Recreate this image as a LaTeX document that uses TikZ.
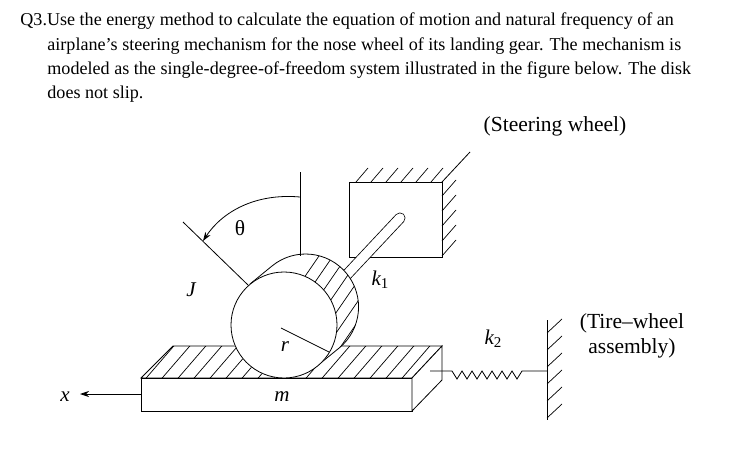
\documentclass[tikz,border=0pt]{standalone}
\usepackage{fontspec}
\setmainfont{Liberation Serif}
\usetikzlibrary{arrows.meta}
\begin{document}
\begin{tikzpicture}[x=1pt,y=-1pt,line width=0.8pt,
  txt/.style={font=\fontsize{18.1}{21}\selectfont,anchor=west,inner sep=0},
  lbl/.style={font=\fontsize{21.5}{24}\selectfont,inner sep=0},
  ilbl/.style={font=\fontsize{21}{24}\selectfont\itshape,inner sep=0},
  hat/.style={line width=0.7pt}]
\useasboundingbox (0,0) rectangle (748,460);
% question text
\node[txt] (l1) at (20,21) {Q3.Use the energy method to calculate the equation of motion and natural frequency of an};
\node[txt] (l2) at (47,46) {airplane’s steering mechanism for the nose wheel of its landing gear. The mechanism is};
\node[txt] (l3) at (47,70) {modeled as the single-degree-of-freedom system illustrated in the figure below. The disk};
\node[txt] (l4) at (47,94) {does not slip.};
\node[lbl] (sw) at (555,126) {(Steering wheel)};
\node[lbl] (tw1) at (632,323) {(Tire–wheel};
\node[lbl] (tw2) at (632,348) {assembly)};
% slab
\draw[fill=white] (141,378) -- (173,346) -- (442,346) -- (412,378) -- cycle;
\begin{scope}
\clip (141,378) -- (173,346) -- (442,346) -- (412,378) -- cycle;
\foreach \i in {0,...,20} \draw[hat] (125+\i*16,384) -- (163+\i*16,340);
\end{scope}
\draw[fill=white] (141,378) rectangle (412,411);
\draw[fill=white] (412,378) -- (442,346) -- (442,380) -- (412,411) -- cycle;
\node[ilbl] (m) at (282,397) {m};
% x arrow
\coordinate (xs) at (141,394);
\coordinate (xe) at (80,394);
\draw[-{Stealth[length=9pt,width=6pt]}] (xs) -- (xe);
\node[ilbl] (x) at (65,397) {x};
% box and shaft
\draw (349,182) rectangle (442,257);
\foreach \i in {0,...,5} \draw[hat] (356+\i*15,182) -- (368+\i*15,168);
\foreach \i in {0,...,4} \draw[hat] (442,196+\i*15) -- (456,180+\i*15);
\draw (442,182) -- (470,152);
\coordinate (sh1) at (340,282);
\coordinate (sh2) at (400,218);
\draw[line width=11pt,line cap=round] (sh1) -- (sh2);
\draw[line width=9.4pt,white,line cap=round] (sh1) -- (sh2);
% disk
\fill[white] (250,284) -- (272,266) arc[start angle=-129.3,end angle=50.7,radius=53] -- (317,366) arc[start angle=50.7,end angle=230.7,radius=53] -- cycle;
\begin{scope}
\clip (250,284) -- (272,266) arc[start angle=-129.3,end angle=50.7,radius=53] -- (317,366) arc[start angle=50.7,end angle=230.7,radius=53] -- cycle;
\foreach \i in {0,...,12} \draw[hat] (220+\i*14,400) -- (330+\i*14,240);
\end{scope}
\draw (250,284) -- (272,266) arc[start angle=-129.3,end angle=50.7,radius=53] -- (317,366);
\draw[fill=white] (284,325) circle[radius=53];
\draw (281,328) -- (329,352);
\node[ilbl] (r) at (285,347) {r};
% angle
\draw (300,172) -- (300,256);
\draw (183,222) -- (248,285);
\draw[-{Stealth[length=9pt,width=6pt]}] (300,197) .. controls (255,193) and (222,212) .. (203,241);
\node[lbl] (th) at (240,228) {θ};
\node[ilbl] (J) at (191,290) {J};
\node[ilbl] (k1) at (380,280) {k\raisebox{-0.35ex}{\upshape\fontsize{15}{15}\selectfont 1}};
% spring
\draw (430,371) -- (452,371) \foreach \k in {0,...,6} { -- ++(5,8) -- ++(5,-8)} -- (532,371) -- (547,371);
\node[ilbl] (k2) at (493,339) {k\raisebox{-0.35ex}{\upshape\fontsize{15}{15}\selectfont 2}};
\draw (547,320) -- (547,420);
\foreach \i in {0,...,5} \draw[hat] (547,333+\i*17) -- (562,319+\i*17);
\end{tikzpicture}
\end{document}
